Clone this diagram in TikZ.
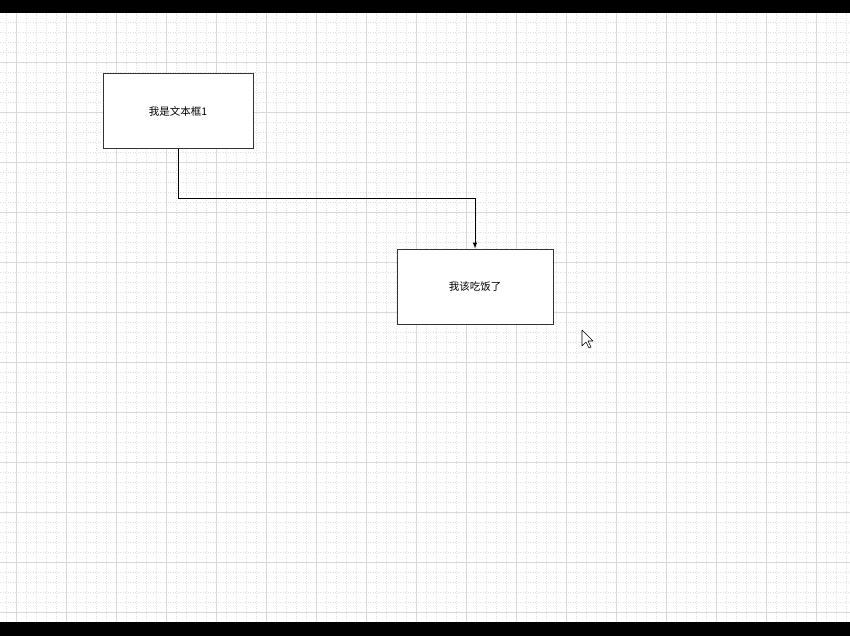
\documentclass[tikz,border=0pt]{standalone}
\usepackage{fontspec}
\newfontfamily\cjk{Noto Sans CJK SC}
\begin{document}
\begin{tikzpicture}[x=1pt,y=-1pt,
  box/.style={draw=black!80,line width=1pt,fill=white,inner sep=0pt,font=\cjk\fontsize{10.5}{12}\selectfont},
  minor/.style={gray!25,dotted,line width=0.5pt},
  major/.style={gray!30,line width=0.6pt}]
\useasboundingbox (0,0) rectangle (850,636);
\fill[white] (0,0) rectangle (850,636);
\foreach \x in {6,16,...,846} \draw[minor] (\x,13) -- (\x,622);
\foreach \y in {22,32,...,620} \draw[minor] (0,\y) -- (850,\y);
\foreach \x in {16,66,...,846} \draw[major] (\x,13) -- (\x,622);
\foreach \y in {62,112,...,620} \draw[major] (0,\y) -- (850,\y);
\fill[black] (0,0) rectangle (850,13);
\fill[black] (0,622) rectangle (850,636);
\node[box,minimum width=150pt,minimum height=75pt] (a) at (178,111.5) {我是文本框1};
\node[box,minimum width=156pt,minimum height=75pt] (b) at (475,286.5) {我该吃饭了};
\draw[line width=1pt,-latex] (a.south) |- (475,199) -- (b.north);
\coordinate (c) at (582,330);
\draw[line width=0.6pt,fill=white,line join=round] (c) -- ++(0,16) -- ++(4,-4) -- ++(3,6) -- ++(2,-1) -- ++(-3,-6) -- ++(5,0) -- cycle;
\end{tikzpicture}
\end{document}
